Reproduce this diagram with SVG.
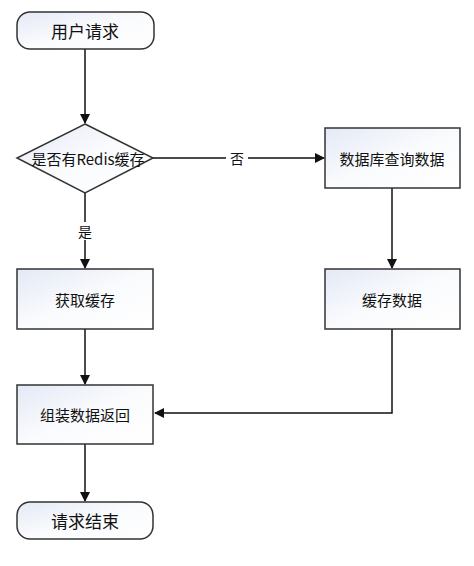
<svg xmlns="http://www.w3.org/2000/svg" width="474" height="566" viewBox="0 0 474 566">
<style>
.shape{fill:url(#g);stroke:#333;stroke-width:1.5}
.t{font-family:"Noto Sans CJK SC","Noto Sans",sans-serif;fill:#111;text-anchor:middle;dominant-baseline:central}
.big{font-size:17px}
.mid{font-size:15px}
.dec{font-size:15px}
.lbl{font-size:14px}
.c{fill:none;stroke:#111;stroke-width:1.5}
</style>
<defs>
<linearGradient id="g" x1="0" y1="0" x2="1" y2="1">
<stop offset="0" stop-color="#e3e9f5"/>
<stop offset="0.5" stop-color="#fafbfd"/>
<stop offset="1" stop-color="#ffffff"/>
</linearGradient>
<marker id="a" markerWidth="10" markerHeight="10" refX="9" refY="5" orient="auto" markerUnits="userSpaceOnUse">
<path d="M0,0 L10,5 L0,10 Z" fill="#111"/>
</marker>
</defs>
<g id="connectors">
<line class="c" x1="85" y1="49" x2="85" y2="123" marker-end="url(#a)"/>
<line class="c" x1="153" y1="158" x2="324" y2="158" marker-end="url(#a)"/>
<line class="c" x1="85" y1="193" x2="85" y2="268" marker-end="url(#a)"/>
<line class="c" x1="392" y1="188" x2="392" y2="268" marker-end="url(#a)"/>
<line class="c" x1="85" y1="329" x2="85" y2="384" marker-end="url(#a)"/>
<polyline class="c" points="392,329 392,413 155,413" marker-end="url(#a)"/>
<line class="c" x1="85" y1="444" x2="85" y2="501" marker-end="url(#a)"/>
<rect x="226" y="150" width="22" height="17" fill="#fff"/>
<text class="t lbl" x="237" y="158">否</text>
<rect x="75" y="222" width="20" height="18" fill="#fff"/>
<text class="t lbl" x="85" y="231">是</text>
</g>
<g id="start">
<rect class="shape" x="17" y="12" width="137" height="37" rx="13"/>
<text class="t big" x="85" y="30">用户请求</text>
</g>
<g id="decision">
<polygon class="shape" points="85,124 153,158 85,193 17,158"/>
<text class="t dec" x="88" y="158">是否有Redis缓存</text>
</g>
<g id="dbquery">
<rect class="shape" x="325" y="128" width="135" height="60"/>
<text class="t mid" x="392" y="158">数据库查询数据</text>
</g>
<g id="getcache">
<rect class="shape" x="17" y="269" width="136" height="60"/>
<text class="t mid" x="85" y="299">获取缓存</text>
</g>
<g id="cachedata">
<rect class="shape" x="325" y="269" width="135" height="60"/>
<text class="t mid" x="392" y="299">缓存数据</text>
</g>
<g id="assemble">
<rect class="shape" x="17" y="385" width="136" height="59"/>
<text class="t mid" x="85" y="414">组装数据返回</text>
</g>
<g id="end">
<rect class="shape" x="17" y="502" width="136" height="37" rx="13"/>
<text class="t big" x="85" y="520">请求结束</text>
</g>
</svg>
